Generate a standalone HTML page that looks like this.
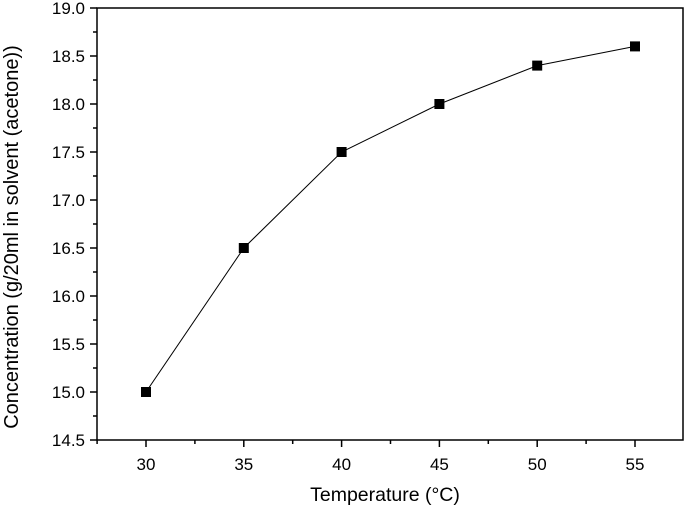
<!DOCTYPE html>
<html><head><meta charset="utf-8"><style>body{margin:0;background:#fff}svg{display:block;font-family:"Liberation Sans",Arial,sans-serif}</style></head>
<body>
<svg id="chart" width="685" height="506">
<rect x="97" y="8" width="586" height="432" fill="none" stroke="#000" stroke-width="1.5"/>
<g id="axes"></g>
<g id="series"></g>
<text x="385" y="501" text-anchor="middle" font-size="19.5">Temperature (°C)</text>
<text transform="translate(18,237) rotate(-90)" text-anchor="middle" font-size="20">Concentration (g/20ml in solvent (acetone))</text>
</svg>
<script>
const temps=[30,35,40,45,50,55];
const conc=[15.0,16.5,17.5,18.0,18.4,18.6];
const xTicks=[30,35,40,45,50,55];
const yTicks=[14.5,15.0,15.5,16.0,16.5,17.0,17.5,18.0,18.5,19.0];
const NS="http://www.w3.org/2000/svg";
const X=v=>146+(v-30)*(635-146)/25;
const Y=v=>440-(v-14.5)*(432/4.5);
function mk(t,a,p){const e=document.createElementNS(NS,t);for(const k in a)e.setAttribute(k,a[k]);p.appendChild(e);return e;}
const ax=document.getElementById('axes'),se=document.getElementById('series');
yTicks.forEach(v=>{
 const l=mk('line',{x1:90,x2:97,y1:Y(v),y2:Y(v),stroke:'#000','stroke-width':1.5},ax);
 
 
 const t=mk('text',{x:85,y:Y(v)+6,'text-anchor':'end','font-size':17},ax);t.textContent=v.toFixed(1);
 
 
 if(v<19){const m=mk('line',{x1:93,x2:97,y1:Y(v+0.25),y2:Y(v+0.25),stroke:'#000','stroke-width':1.5},ax);
 
 }
});
xTicks.forEach((v,i)=>{
 const l=mk('line',{x1:X(v),x2:X(v),y1:440,y2:447,stroke:'#000','stroke-width':1.5},ax);
 
 
 const t=mk('text',{x:X(v),y:470,'text-anchor':'middle','font-size':17},ax);t.textContent=v;
 
 
});
[27.5,32.5,37.5,42.5,47.5,52.5,57.5].forEach(v=>{const x=X(v);if(x>97&&x<683){const m=mk('line',{x1:x,x2:x,y1:440,y2:444,stroke:'#000','stroke-width':1.5},ax);
 
 }});
const pl=mk('polyline',{points:temps.map((t,i)=>X(t)+','+Y(conc[i])).join(' '),fill:'none',stroke:'#000','stroke-width':1},se);


temps.forEach((t,i)=>{const r=mk('rect',{x:X(t)-5,y:Y(conc[i])-5,width:10,height:10,fill:'#000'},se);
 
 });
</script>
</body></html>
